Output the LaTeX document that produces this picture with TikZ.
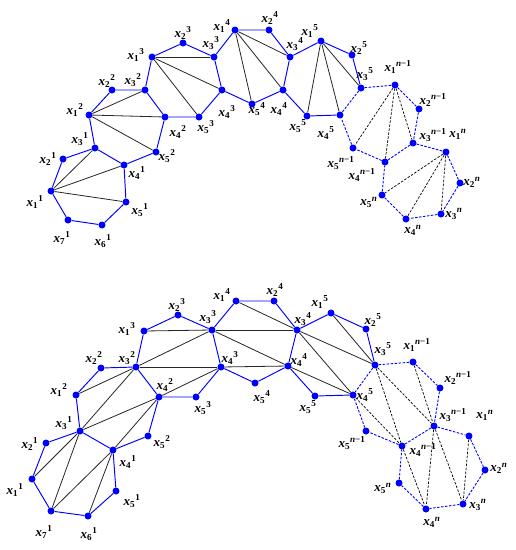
\documentclass[tikz,border=0pt]{standalone}
\usepackage{fontspec}
\setmainfont{Liberation Serif}
\pgfdeclarelayer{bg}
\pgfsetlayers{bg,main}
\newcommand\xl[2]{x\textsubscript{\upshape #1}\textsuperscript{\upshape #2}}
\newcommand\nm{\textit{n}−1}
\newcommand\nn{\textit{n}}
\newcommand\vtx[4]{\node[dot] (#1) at (#2) {}; \node[lab] (l#1) at (#3) {#4};}
\tikzset{
 dot/.style={circle,fill=blue,inner sep=0pt,minimum size=7pt},
 bl/.style={blue,line width=0.95pt},
 bld/.style={blue,line width=0.9pt,dash pattern=on 2.5pt off 1.5pt},
 bk/.style={black!85,line width=0.8pt},
 bkd/.style={black,line width=0.7pt,dash pattern=on 2.5pt off 1.5pt},
 lab/.style={font=\fontsize{13}{15}\selectfont\bfseries\itshape,inner sep=0pt}
}
\begin{document}
\begin{tikzpicture}[x=1pt,y=-1pt]
\useasboundingbox (0,0) rectangle (516,550);
% ---------- top figure ----------
\vtx{t11}{51,191}{35,202}{\xl{1}{1}}
\vtx{t21}{63,159}{48,159}{\xl{2}{1}}
\vtx{t31}{95,148}{80,139}{\xl{3}{1}}
\vtx{t41}{124,165}{137,173}{\xl{4}{1}}
\vtx{t51}{126,202}{140,210}{\xl{5}{1}}
\vtx{t61}{102,225}{103,241}{\xl{6}{1}}
\vtx{t71}{68,220}{62,238}{\xl{7}{1}}
\vtx{t12}{89,115}{75,110}{\xl{1}{2}}
\vtx{t22}{112,90}{107,81}{\xl{2}{2}}
\vtx{t32}{145,90}{133,80}{\xl{3}{2}}
\vtx{t42}{165,117}{178,132}{\xl{4}{2}}
\vtx{t52}{156,152}{167,156}{\xl{5}{2}}
\vtx{t13}{152,57}{136,55}{\xl{1}{3}}
\vtx{t23}{183,43}{183,33}{\xl{2}{3}}
\vtx{t33}{214,57}{211,43}{\xl{3}{3}}
\vtx{t43}{222,90}{227,112}{\xl{4}{3}}
\vtx{t53}{199,117}{206,127}{\xl{5}{3}}
\vtx{t14}{235,30}{222,26}{\xl{1}{4}}
\vtx{t24}{269,30}{270,18}{\xl{2}{4}}
\vtx{t34}{290,57}{295,44}{\xl{3}{4}}
\vtx{t44}{283,90}{279,109}{\xl{4}{4}}
\vtx{t54}{252,104}{257,109}{\xl{5}{4}}
\vtx{t15}{321,41}{310,31}{\xl{1}{5}}
\vtx{t25}{352,55}{359,48}{\xl{2}{5}}
\vtx{t35}{361,88}{365,74}{\xl{3}{5}}
\vtx{t45}{340,115}{326,133}{\xl{4}{5}}
\vtx{t55}{307,116}{298,126}{\xl{5}{5}}
\vtx{t1m}{395,85}{398,67}{\xl{1}{\nm}}
\vtx{t2m}{419,109}{433,100}{\xl{2}{\nm}}
\vtx{t3m}{413,143}{433,135}{\xl{3}{\nm}}
\vtx{t4m}{385,162}{362,175}{\xl{4}{\nm}}
\vtx{t5m}{353,148}{341,163}{\xl{5}{\nm}}
\vtx{t1n}{446,152}{458,134}{\xl{1}{\nn}}
\vtx{t2n}{460,183}{472,182}{\xl{2}{\nn}}
\vtx{t3n}{441,214}{454,214}{\xl{3}{\nn}}
\vtx{t4n}{406,219}{413,230}{\xl{4}{\nn}}
\vtx{t5n}{382,195}{369,202}{\xl{5}{\nn}}
% ---------- bottom figure ----------
\vtx{b11}{32,479}{15,490}{\xl{1}{1}}
\vtx{b21}{46,443}{30,444}{\xl{2}{1}}
\vtx{b31}{80,431}{64,423}{\xl{3}{1}}
\vtx{b41}{113,450}{128,462}{\xl{4}{1}}
\vtx{b51}{116,491}{132,501}{\xl{5}{1}}
\vtx{b61}{88,516}{89,534}{\xl{6}{1}}
\vtx{b71}{51,511}{44,532}{\xl{7}{1}}
\vtx{b12}{76,395}{59,390}{\xl{1}{2}}
\vtx{b22}{101,368}{94,358}{\xl{2}{2}}
\vtx{b32}{136,367}{127,358}{\xl{3}{2}}
\vtx{b42}{159,397}{165,385}{\xl{4}{2}}
\vtx{b52}{148,436}{162,442}{\xl{5}{2}}
\vtx{b13}{144,331}{127,329}{\xl{1}{3}}
\vtx{b23}{178,315}{177,305}{\xl{2}{3}}
\vtx{b33}{212,330}{208,317}{\xl{3}{3}}
\vtx{b43}{221,367}{230,358}{\xl{4}{3}}
\vtx{b53}{196,397}{203,408}{\xl{5}{3}}
\vtx{b14}{236,301}{222,295}{\xl{1}{4}}
\vtx{b24}{274,301}{275,290}{\xl{2}{4}}
\vtx{b34}{297,330}{303,319}{\xl{3}{4}}
\vtx{b44}{288,366}{299,360}{\xl{4}{4}}
\vtx{b54}{255,383}{262,397}{\xl{5}{4}}
\vtx{b15}{331,313}{320,302}{\xl{1}{5}}
\vtx{b25}{366,329}{373,320}{\xl{2}{5}}
\vtx{b35}{375,365}{383,349}{\xl{3}{5}}
\vtx{b45}{353,395}{365,395}{\xl{4}{5}}
\vtx{b55}{315,396}{308,407}{\xl{5}{5}}
\vtx{b1m}{413,362}{417,345}{\xl{1}{\nm}}
\vtx{b2m}{440,388}{458,378}{\xl{2}{\nm}}
\vtx{b3m}{434,426}{453,415}{\xl{3}{\nm}}
\vtx{b4m}{402,446}{423,450}{\xl{4}{\nm}}
\vtx{b5m}{366,431}{352,443}{\xl{5}{\nm}}
\vtx{b1n}{469,436}{485,415}{\xl{1}{\nn}}
\vtx{b2n}{485,470}{499,468}{\xl{2}{\nn}}
\vtx{b3n}{463,504}{478,505}{\xl{3}{\nn}}
\vtx{b4n}{426,509}{432,522}{\xl{4}{\nn}}
\vtx{b5n}{399,483}{383,488}{\xl{5}{\nn}}
\begin{pgfonlayer}{bg}
\foreach \p in {t,b}{
 \draw[bl] (\p11) -- (\p21) -- (\p31) -- (\p41) -- (\p51) -- (\p61) -- (\p71) -- (\p11);
 \draw[bl] (\p31) -- (\p12) -- (\p22) -- (\p32) -- (\p42) -- (\p52) -- (\p41);
 \draw[bl] (\p32) -- (\p13) -- (\p23) -- (\p33) -- (\p43) -- (\p53) -- (\p42);
 \draw[bl] (\p33) -- (\p14) -- (\p24) -- (\p34) -- (\p44) -- (\p54) -- (\p43);
 \draw[bl] (\p34) -- (\p15) -- (\p25) -- (\p35);
 \draw[bl] (\p45) -- (\p55) -- (\p44);
 \draw[bld] (\p35) -- (\p45);
 \draw[bld] (\p35) -- (\p1m) -- (\p2m) -- (\p3m) -- (\p4m) -- (\p5m) -- (\p45);
 \draw[bld] (\p3m) -- (\p1n) -- (\p2n) -- (\p3n) -- (\p4n) -- (\p5n) -- (\p4m);
}
\foreach \a/\b in {t11/t31,t11/t41,t11/t51,t12/t32,t12/t42,t12/t52,
 t13/t33,t13/t43,t13/t53,t14/t34,t14/t44,t14/t54,t15/t35,t15/t45,t15/t55,
 b11/b31,b71/b31,b71/b41,b61/b41,b12/b32,b31/b32,b31/b42,b41/b42,
 b13/b33,b32/b33,b32/b43,b42/b43,b14/b34,b33/b34,b33/b44,b43/b44,
 b15/b35,b34/b35,b34/b45,b44/b45}
 \draw[bk] (\a) -- (\b);
\foreach \a/\b in {t1m/t3m,t1m/t4m,t1m/t5m,t1n/t3n,t1n/t4n,t1n/t5n,
 b1m/b3m,b35/b3m,b35/b4m,b45/b4m,b1n/b3n,b3m/b3n,b3m/b4n,b4m/b4n}
 \draw[bkd] (\a) -- (\b);
\end{pgfonlayer}
\end{tikzpicture}
\end{document}
